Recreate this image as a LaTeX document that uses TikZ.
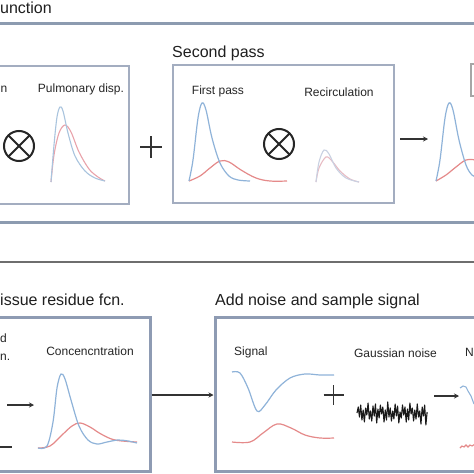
\documentclass[tikz,border=0pt]{standalone}
\usepackage{fontspec}
\setmainfont{Liberation Sans}
\usetikzlibrary{arrows.meta,calc}
\definecolor{outerc}{HTML}{8C9BB0}
\definecolor{innerc}{HTML}{A3ADC0}
\definecolor{binnerc}{HTML}{8E9BB3}
\definecolor{darkline}{HTML}{6E6E6E}
\definecolor{bluec}{HTML}{8FB3D9}
\definecolor{redc}{HTML}{E58A8A}
\definecolor{pblue}{HTML}{A9C4DE}
\definecolor{pred}{HTML}{E9A3AB}
\definecolor{fblue}{HTML}{C9D1E2}
\definecolor{fred}{HTML}{E7BBC3}
\definecolor{arrc}{HTML}{333333}
\tikzset{
  title/.style={font=\fontsize{16}{18}\selectfont, text=black!88, inner sep=0pt},
  label/.style={font=\fontsize{12}{14}\selectfont, text=black!85, inner sep=0pt},
  outerbox/.style={draw=outerc, line width=3pt},
  innerbox/.style={draw=innerc, line width=2pt},
  binnerbox/.style={draw=binnerc, line width=3pt},
  bcurve/.style={draw=bluec, line width=1.2pt},
  rcurve/.style={draw=redc, line width=1.2pt},
  arr/.style={draw=arrc, line width=1.5pt, -{Stealth[length=5pt,width=5pt]}},
  otimes/.style={circle, draw=black!85, line width=2pt, minimum size=30pt, inner sep=0pt},
  plussign/.style={draw=black!80, line width=1.7pt}
}
\begin{document}
\begin{tikzpicture}[x=1pt,y=-1pt]
\useasboundingbox (0,0) rectangle (474,474);
\clip (0,0) rectangle (474,474);
\fill[white] (0,0) rectangle (474,474);

% ===== top section =====
\node[title, anchor=base west] (tTop) at (0,13) {unction};
\draw[outerbox] (-10,23) rectangle (490,222);

% pulmonary box
\draw[innerbox] (-10,66) rectangle (129,204);
\node[label, anchor=base west] (tN) at (0.5,92) {n};
\node[label, anchor=base] (tPulm) at (81,92) {Pulmonary disp.};
\node[otimes] (ot1) at (19,146) {};
\draw[black!85, line width=2pt] ($(ot1)+(-10.6,-10.6)$) -- ($(ot1)+(10.6,10.6)$);
\draw[black!85, line width=2pt] ($(ot1)+(-10.6,10.6)$) -- ($(ot1)+(10.6,-10.6)$);
\draw[draw=pred, line width=1.1pt] plot[smooth, tension=0.55] coordinates {(51,182) (54,155) (59,133) (65,125) (71,132) (79,152) (89,169) (98,177) (105,181)};
\draw[draw=pblue, line width=1.1pt] plot[smooth, tension=0.55] coordinates {(51,182) (54,145) (57,117) (60,107) (63,111) (68,133) (75,156) (85,171) (95,178) (105,181)};

% plus
\coordinate (p1) at (151,147);
\draw[plussign] ($(p1)+(-11,0)$) -- ($(p1)+(11,0)$);
\draw[plussign] ($(p1)+(0,-11)$) -- ($(p1)+(0,11)$);

% second pass
\node[title, anchor=base] (tSecond) at (218.5,57) {Second pass};
\draw[innerbox] (173,65) rectangle (394,203);
\node[label, anchor=base] (tFirst) at (218,94) {First pass};
\node[label, anchor=base] (tRecirc) at (339,96) {Recirculation};
\draw[rcurve] plot[smooth, tension=0.6] coordinates {(189,181) (200,176) (210,168) (220,161) (229,162) (241,170) (256,178) (270,181) (287,181)};
\draw[bcurve] plot[smooth, tension=0.55] coordinates {(189,181) (193,160) (198,118) (202,103) (206,110) (212,138) (220,163) (229,176) (238,180) (250,181)};
\node[otimes] (ot2) at (279,144) {};
\draw[black!85, line width=2pt] ($(ot2)+(-10.6,-10.6)$) -- ($(ot2)+(10.6,10.6)$);
\draw[black!85, line width=2pt] ($(ot2)+(-10.6,10.6)$) -- ($(ot2)+(10.6,-10.6)$);
\draw[draw=fred, line width=1.1pt] plot[smooth, tension=0.55] coordinates {(316,182) (319,168) (326,157) (332,161) (340,171) (350,179) (359,182)};
\draw[draw=fblue, line width=1.1pt] plot[smooth, tension=0.55] coordinates {(316,182) (319,162) (324,150) (329,154) (336,168) (346,178) (359,182)};

% arrow to result
\coordinate (a1s) at (400,139);
\coordinate (a1e) at (428,139);
\draw[arr] (a1s) -- (a1e);

% result curves
\draw[rcurve] plot[smooth, tension=0.6] coordinates {(436,181) (446,175) (456,167) (466,160) (476,160)};
\draw[bcurve] plot[smooth, tension=0.55] coordinates {(436,181) (440,160) (445,118) (449,103) (453,110) (459,140) (466,165) (472,175) (478,178)};
\draw[draw=black!35, line width=1.3pt] (490,64) -- (471,64) -- (471,96) -- (490,96);

% ===== bottom section =====
\draw[draw=darkline, line width=2.5pt] (-10,262) -- (490,262);
\node[title, anchor=base west] (tTissue) at (0,305) {issue residue fcn.};
\node[title, anchor=base west] (tNoise) at (215,305) {Add noise and sample signal};

% left bottom box
\draw[binnerbox] (-10,317) rectangle (150,471);
\node[label, anchor=base west] (tD) at (0,342) {d};
\node[label, anchor=base west] (tN2) at (0,360) {n.};
\coordinate (a2s) at (7,405);
\coordinate (a2e) at (34,405);
\draw[arr] (a2s) -- (a2e);
\draw[draw=black!80, line width=1.3pt] (-2,447) -- (12,447);
\node[label, anchor=base] (tConc) at (90,355) {Concencntration};
\draw[rcurve] plot[smooth, tension=0.6] coordinates {(38,448) (50,446) (62,435) (72,426) (80,423) (90,427) (101,434) (115,440) (137,442)};
\draw[bcurve] plot[smooth, tension=0.55] coordinates {(38,448) (47,446) (53,422) (57,388) (61,374) (65,379) (71,400) (79,426) (88,440) (97,444) (107,442) (118,440) (128,441) (137,443)};

% long arrow between boxes
\coordinate (lbR) at (151.5,395);
\coordinate (rbL) at (213.5,395);
\draw[arr, line width=1.2pt] (lbR) -- (rbL);

% right bottom box
\draw[binnerbox] (215,317) rectangle (490,471);
\node[label, anchor=base west] (tSignal) at (234,355) {Signal};
\draw[bcurve] plot[smooth, tension=0.55] coordinates {(232,372) (240,373) (248,388) (257,411) (265,405) (276,390) (290,378) (305,374) (320,375) (334,375)};
\draw[rcurve] plot[smooth, tension=0.6] coordinates {(232,442) (250,442) (263,433) (277,424) (291,428) (305,435) (320,438) (334,438)};
\coordinate (p2) at (333.5,395);
\draw[plussign] ($(p2)+(-10,0)$) -- ($(p2)+(10,0)$);
\draw[plussign] ($(p2)+(0,-10)$) -- ($(p2)+(0,10)$);
\node[label, anchor=base] (tGauss) at (395.5,357) {Gaussian noise};
\draw[draw=black!90, line width=1.1pt, line join=round] (357,413)
  \foreach \d [count=\i] in {-6,4,-8,7,-3,9,-5,2,-10,6,-2,8,-7,3,-9,10,-4,5,-8,1,-6,9,-3,7,-11,4,-5,8,-2,6,-9,3,-7,10,-1,5,-8,2,-6,9,-4,7,-10,1,-5,8,-3,6,-9,4,-2,11,-6,3,-8,12,-1}
  { -- ({357+\i*1.23},{413+\d}) };
\coordinate (a3s) at (434,396);
\coordinate (a3e) at (459,396);
\draw[arr] (a3s) -- (a3e);
\node[label, anchor=base west] (tNoisy) at (465,356) {N};
\draw[draw=bluec, line width=1.1pt] (460,388) -- (463,386) -- (466,387) -- (468,391) -- (471,396) -- (474,404);
\draw[draw=redc, line width=1.1pt] (460,448) -- (462,446) -- (464,447) -- (466,445) -- (468,447) -- (470,445) -- (472,446) -- (475,444);
\end{tikzpicture}
\end{document}
